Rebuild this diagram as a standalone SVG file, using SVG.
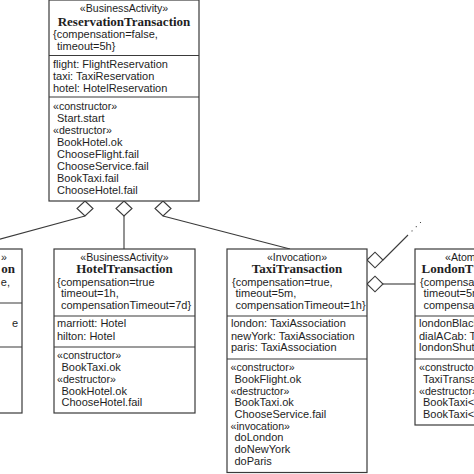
<svg xmlns="http://www.w3.org/2000/svg" width="474" height="474" viewBox="0 0 474 474">
<style>
.box{fill:#fff;stroke:#3a3a3a;stroke-width:1.2}
.dv{stroke:#3a3a3a;stroke-width:1.2}
text{font-family:"Liberation Sans",Arial,sans-serif;font-size:11px;fill:#1e1e1e}
.s{font-size:10.6px}
.m{text-anchor:middle}
.e{text-anchor:end}
.n{font-family:"Liberation Serif","Times New Roman",serif;font-weight:bold;font-size:13px}
.ln{stroke:#3a3a3a;stroke-width:1.1;fill:none}
.dm{fill:#fff;stroke:#3a3a3a;stroke-width:1.1}
</style>
<defs>
<path id="dvert" d="M0,0 L8,7.5 L0,15 L-8,7.5 Z"/>
<path id="dhor" d="M0,0 L8,-7.8 L16,0 L8,7.8 Z"/>
</defs>
<rect width="474" height="474" fill="#fff"/>

<g id="connectors">
<line class="ln" x1="85" y1="216" x2="-36" y2="249"/>
<line class="ln" x1="124" y1="216" x2="124" y2="249"/>
<line class="ln" x1="163" y1="216" x2="290" y2="249"/>
<line class="ln" x1="383" y1="260" x2="408" y2="235"/>
<line class="ln" x1="412" y1="231" x2="420.5" y2="222.5" stroke-dasharray="0.1 5.9" stroke-linecap="round" stroke-width="1.4"/>
<line class="ln" x1="383" y1="284" x2="415" y2="284"/>
<use href="#dvert" class="dm" x="85" y="201"/>
<use href="#dvert" class="dm" x="124" y="201"/>
<use href="#dvert" class="dm" x="163" y="201"/>
<use href="#dhor" class="dm" x="367" y="260"/>
<use href="#dhor" class="dm" x="367" y="284"/>
</g>

<g id="ReservationTransaction">
<rect class="box" x="49" y="0" width="150" height="201"/>
<line class="dv" x1="49" y1="55.5" x2="199" y2="55.5"/>
<line class="dv" x1="49" y1="97" x2="199" y2="97"/>
<text class="s m" x="124" y="11.8">«BusinessActivity»</text>
<text class="n m" x="124" y="25.5">ReservationTransaction</text>
<text x="53" y="37.8">{compensation=false,</text>
<text x="57" y="49.5">timeout=5h}</text>
<text x="53" y="68.3">flight: FlightReservation</text>
<text x="53" y="80.1">taxi: TaxiReservation</text>
<text x="53" y="91.9">hotel: HotelReservation</text>
<text class="s" x="53" y="110.3">«constructor»</text>
<text x="57" y="122.2">Start.start</text>
<text class="s" x="53" y="134.1">«destructor»</text>
<text x="57" y="146">BookHotel.ok</text>
<text x="57" y="157.9">ChooseFlight.fail</text>
<text x="57" y="169.8">ChooseService.fail</text>
<text x="57" y="181.7">BookTaxi.fail</text>
<text x="57" y="193.6">ChooseHotel.fail</text>
</g>

<g id="LeftTransaction">
<rect class="box" x="-120" y="249" width="142" height="164"/>
<line class="dv" x1="-120" y1="303" x2="22" y2="303"/>
<line class="dv" x1="-120" y1="347" x2="22" y2="347"/>
<text class="s e" x="7" y="260.5">»</text>
<text class="n e" x="15" y="273">on</text>
<text class="e" x="10" y="285.5">e,</text>
<text class="e" x="18" y="327.2">e</text>
</g>

<g id="HotelTransaction">
<rect class="box" x="54" y="249" width="141" height="164"/>
<line class="dv" x1="54" y1="316" x2="195" y2="316"/>
<line class="dv" x1="54" y1="347" x2="195" y2="347"/>
<text class="s m" x="124.5" y="260.5">«BusinessActivity»</text>
<text class="n m" x="124.5" y="273">HotelTransaction</text>
<text x="57" y="285.5">{compensation=true</text>
<text x="61" y="297">timeout=1h,</text>
<text x="61" y="308.5">compensationTimeout=7d}</text>
<text x="57" y="327.2">marriott: Hotel</text>
<text x="57" y="339.5">hilton: Hotel</text>
<text class="s" x="57" y="359.3">«constructor»</text>
<text x="61.5" y="371">BookTaxi.ok</text>
<text class="s" x="57" y="382.8">«destructor»</text>
<text x="61.5" y="394.5">BookHotel.ok</text>
<text x="61.5" y="406.3">ChooseHotel.fail</text>
</g>

<g id="TaxiTransaction">
<rect class="box" x="227" y="249" width="140" height="223.5"/>
<line class="dv" x1="227" y1="316" x2="367" y2="316"/>
<line class="dv" x1="227" y1="359" x2="367" y2="359"/>
<text class="s m" x="297" y="260.5">«Invocation»</text>
<text class="n m" x="297" y="273">TaxiTransaction</text>
<text x="232" y="285.5">{compensation=true,</text>
<text x="235.5" y="297">timeout=5m,</text>
<text x="235.5" y="308.5">compensationTimeout=1h}</text>
<text x="231" y="327.2">london: TaxiAssociation</text>
<text x="231" y="339.5">newYork: TaxiAssociation</text>
<text x="231" y="351">paris: TaxiAssociation</text>
<text class="s" x="230.5" y="371">«constructor»</text>
<text x="234.5" y="383">BookFlight.ok</text>
<text class="s" x="230.5" y="394.5">«destructor»</text>
<text x="234.5" y="406">BookTaxi.ok</text>
<text x="234.5" y="418">ChooseService.fail</text>
<text class="s" x="230.5" y="429.8">«invocation»</text>
<text x="234.5" y="441.3">doLondon</text>
<text x="234.5" y="453.2">doNewYork</text>
<text x="234.5" y="465">doParis</text>
</g>

<g id="LondonTransaction">
<rect class="box" x="415" y="249" width="80" height="176"/>
<line class="dv" x1="415" y1="316" x2="495" y2="316"/>
<line class="dv" x1="415" y1="359" x2="495" y2="359"/>
<text class="s" x="445" y="260.5">«Atomi</text>
<text class="n" x="421.5" y="273">LondonT</text>
<text x="420" y="285.5">{compensat</text>
<text x="423.5" y="297">timeout=5m</text>
<text x="423.5" y="308.5">compensat</text>
<text x="419" y="327.2">londonBlack</text>
<text x="419" y="339.5">dialACab: T</text>
<text x="419" y="351">londonShutt</text>
<text class="s" x="419" y="371">«constructo</text>
<text x="423" y="383">TaxiTransa</text>
<text class="s" x="419" y="394.5">«destructor»</text>
<text x="423" y="406">BookTaxi&lt;</text>
<text x="423" y="418">BookTaxi&lt;</text>
</g>
</svg>
